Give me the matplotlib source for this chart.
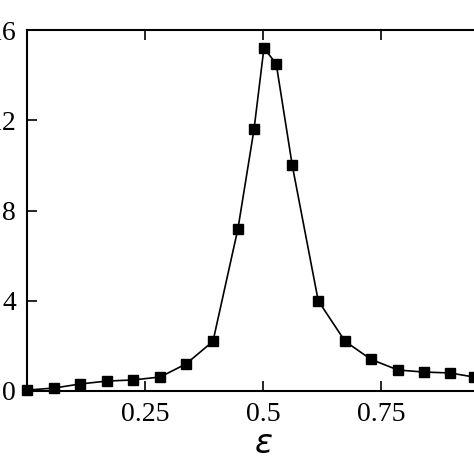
import matplotlib
matplotlib.use("Agg")
import matplotlib.pyplot as plt

eps = [0.0, 0.057, 0.112, 0.169, 0.225, 0.282, 0.337, 0.394, 0.447, 0.481, 0.502,
       0.528, 0.562, 0.617, 0.674, 0.729, 0.786, 0.841, 0.896, 0.947]
vals = [0.04, 0.13, 0.31, 0.44, 0.49, 0.62, 1.2, 2.2, 7.2, 11.6, 15.2,
        14.5, 10.0, 4.0, 2.2, 1.4, 0.93, 0.84, 0.8, 0.62]
yticks = [0, 4, 8, 12, 16]
xticks = [0.25, 0.5, 0.75]
xticklabels = ["0.25", "0.5", "0.75"]

plt.rcParams['font.family'] = ['Liberation Serif', 'DejaVu Serif']
W = 474
fig = plt.figure(figsize=(W/100, W/100), dpi=100)
# axes: x from 0 to 1 over 472 px starting at x=27; y 0..16 from 390 to 30
ax = fig.add_axes([27/W, (W-391)/W, 472/W, 361/W])
ax.plot(eps, vals, color='black', lw=1.2, marker='s', ms=7, clip_on=False, zorder=3)
ax.set_xlim(0, 1)
ax.set_ylim(0, 16)
ax.set_yticks(yticks)
ax.set_yticklabels([str(v) for v in yticks])
ax.set_xticks(xticks)
ax.set_xticklabels(xticklabels)
ax.tick_params(direction='in', length=7, width=1.2, labelsize=20, top=True, right=True, pad=8)
for s in ax.spines.values():
    s.set_linewidth(1.5)
ax.set_xlabel(r'$\varepsilon$', fontsize=24, labelpad=2)
fig.savefig('out.png', dpi=100)
